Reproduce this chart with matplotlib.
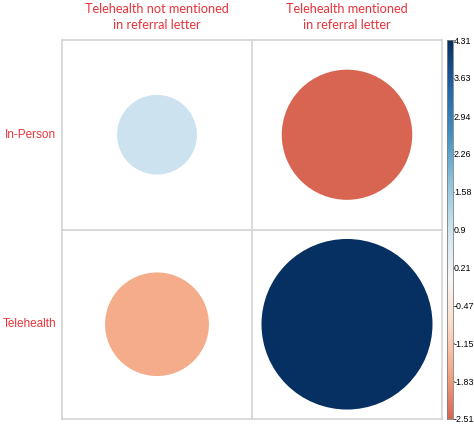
import numpy as np
import matplotlib.pyplot as plt
from matplotlib.patches import Circle
from matplotlib.colors import Normalize

# data
row_labels = ['In-Person', 'Telehealth']
col_labels = ['Telehealth not mentioned\nin referral letter',
              'Telehealth mentioned\nin referral letter']
values = np.array([[0.94, -2.51],
                   [-1.59, 4.31]])
cbar_ticks = [4.31, 3.63, 2.94, 2.26, 1.58, 0.9, 0.21, -0.47, -1.15, -1.83, -2.51]

vmax = np.abs(values).max()
norm = Normalize(-vmax, vmax)
cmap = plt.get_cmap('RdBu')
red = '#E8343C'
grid_col = '#D3D3D3'

fig = plt.figure(figsize=(4.74, 4.24), dpi=100)
W, H = 474, 424
ax = fig.add_axes([62 / W, 1 - 419 / H, 380 / W, 379 / H])
ax.set_xlim(0, 2)
ax.set_ylim(2, 0)
ax.axis('off')

nr, nc = values.shape
for i in range(nr):
    for j in range(nc):
        v = values[i, j]
        r = 0.45 * np.sqrt(abs(v) / vmax)
        ax.add_patch(Circle((j + 0.5, i + 0.5), r, facecolor=cmap(norm(v)),
                            edgecolor='none'))

# cell grid
for k in range(nc + 1):
    ax.plot([k, k], [0, nr], color=grid_col, lw=1.2, clip_on=False)
for k in range(nr + 1):
    ax.plot([0, nc], [k, k], color=grid_col, lw=1.2, clip_on=False)

for i, lab in enumerate(row_labels):
    ax.text(-0.03, i + 0.5, lab, ha='right', va='center', color=red,
            fontsize=8.5, family='Liberation Sans')
for j, lab in enumerate(col_labels):
    ax.text(j + 0.5, -0.045, lab, ha='center', va='bottom', color=red,
            fontsize=9.2, family='Lato', linespacing=1.45)

# colorbar
cax = fig.add_axes([447 / W, 1 - 419 / H, 5.5 / W, 379 / H])
lo, hi = min(cbar_ticks), max(cbar_ticks)
grad = np.linspace(lo, hi, 256).reshape(-1, 1)
cax.imshow(grad, aspect='auto', cmap=cmap, norm=norm, origin='lower',
           extent=[0, 1, lo, hi])
cax.set_xticks([])
cax.yaxis.tick_right()
cax.set_yticks(cbar_ticks)
cax.set_yticklabels([str(t) for t in cbar_ticks], family='Liberation Sans')
cax.tick_params(axis='y', length=1, width=0.6, pad=0, labelsize=6.4)
for s in cax.spines.values():
    s.set_color('#808080')
    s.set_linewidth(0.6)

fig.savefig('out.png', dpi=100)
